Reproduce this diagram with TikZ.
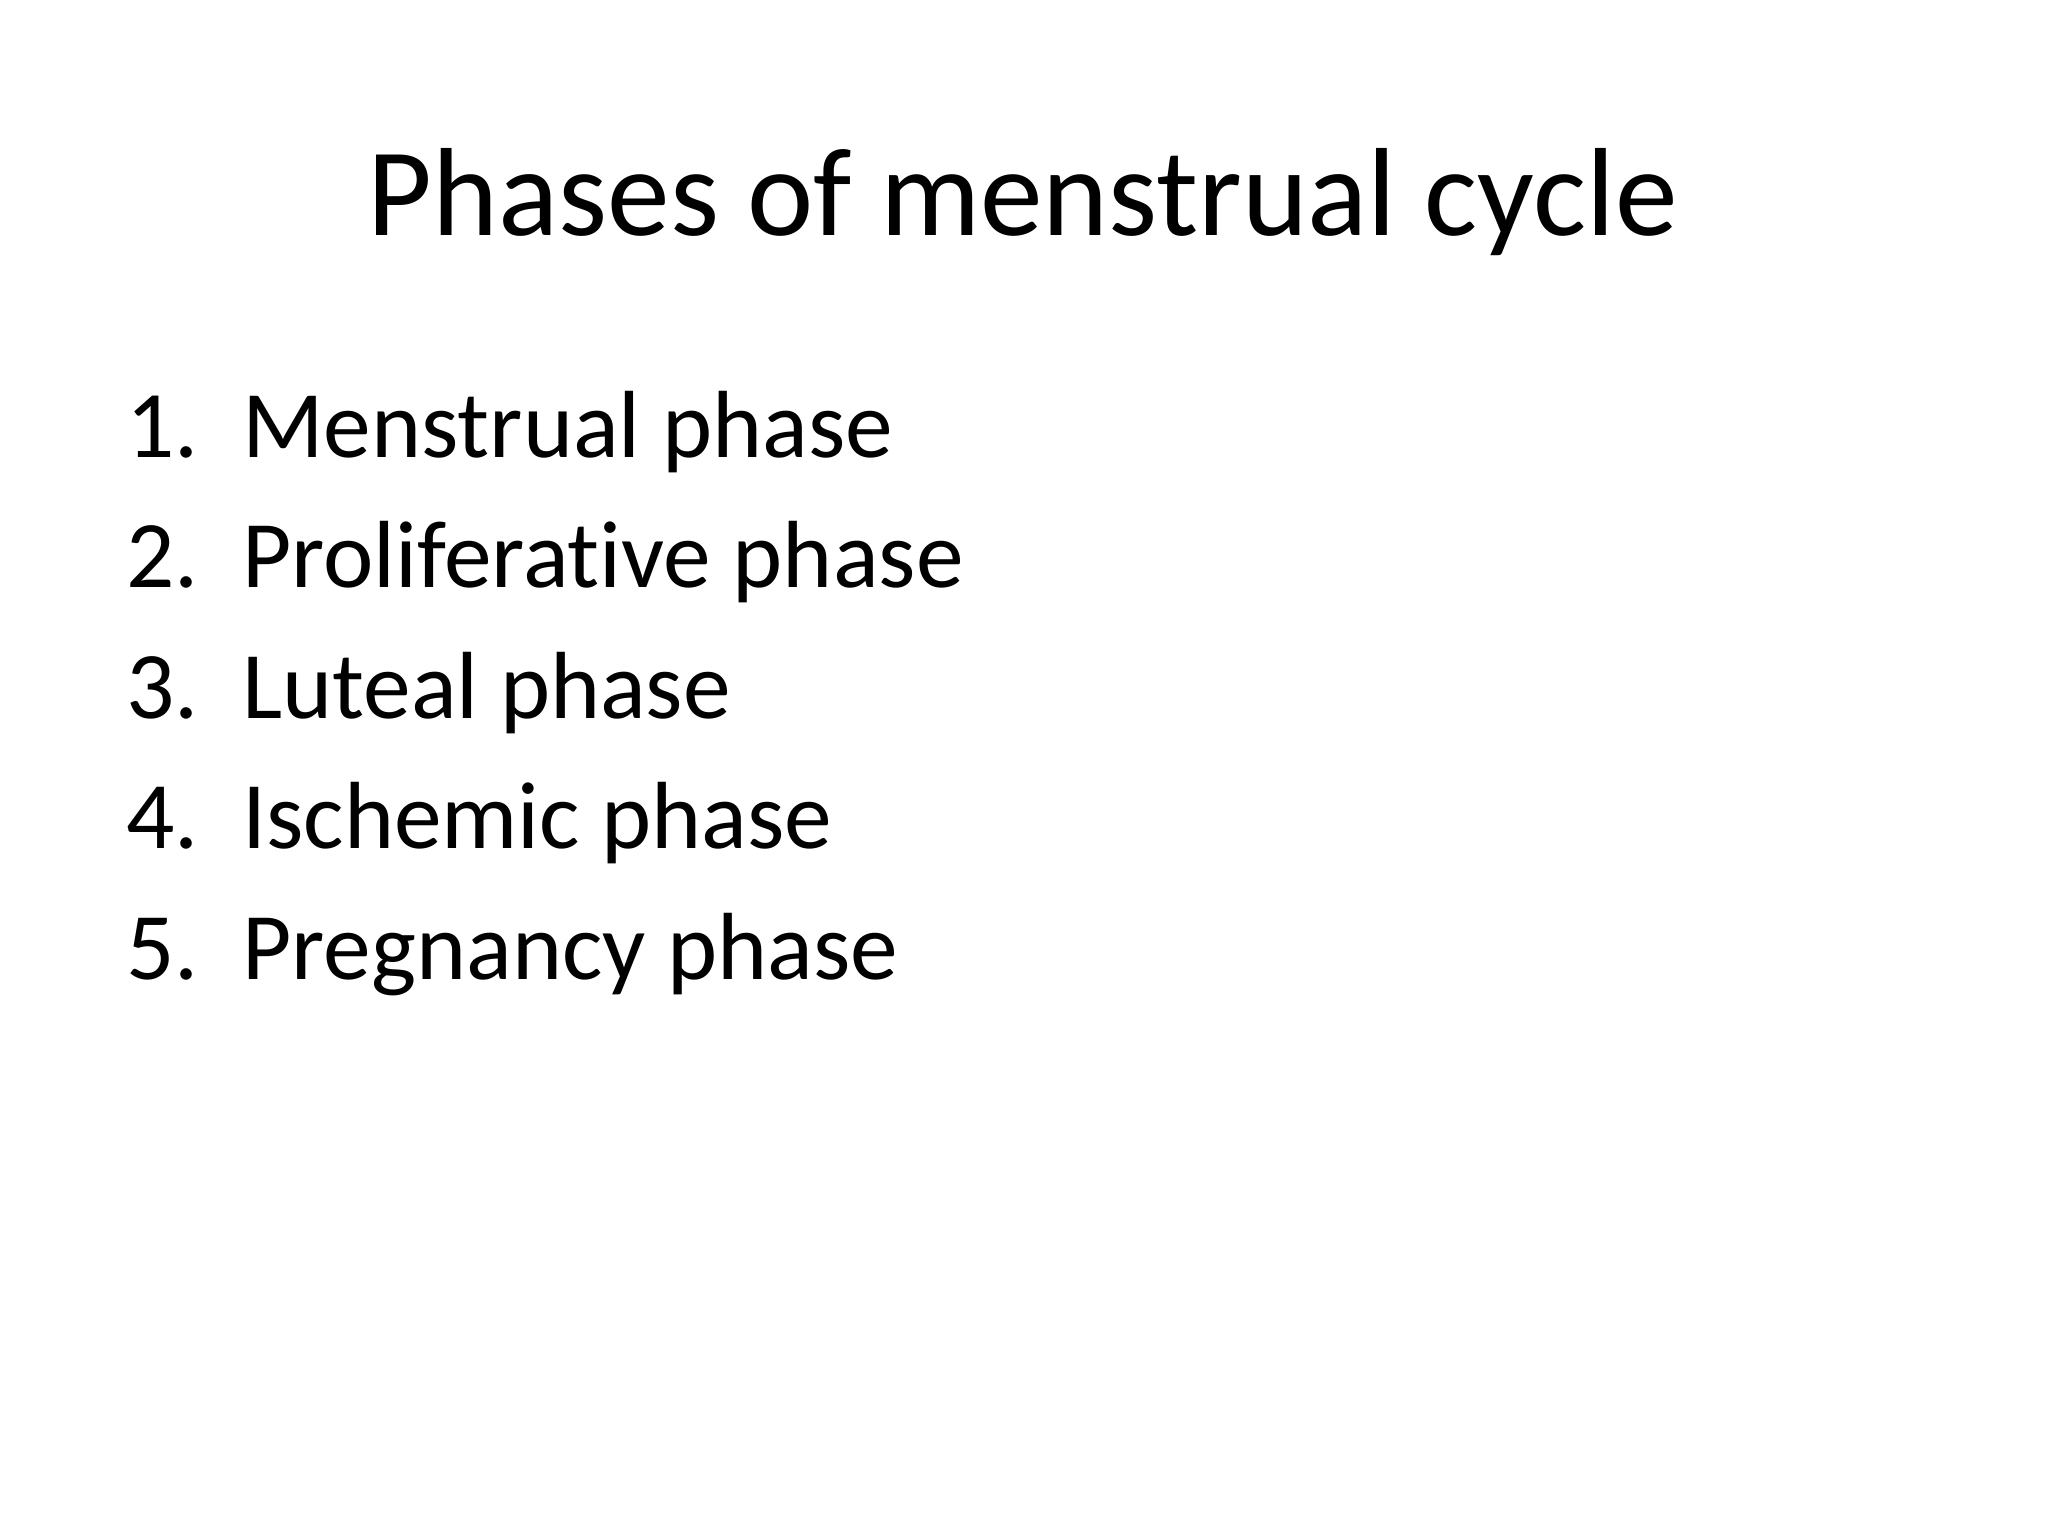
\documentclass[tikz,border=0pt]{standalone}
\usepackage{fontspec}
\setmainfont[Ligatures={NoCommon}]{Carlito}
\tikzset{every picture/.style={line width=0.75pt}}
\tikzset{
  title/.style={anchor=base,font=\fontsize{62.7}{70}\selectfont,inner sep=0pt},
  itemnum/.style={anchor=base west,font=\fontsize{47.7}{56}\selectfont,inner sep=0pt},
  itemtext/.style={anchor=base west,font=\fontsize{47.7}{56}\selectfont,inner sep=0pt}
}
\begin{document}
\begin{tikzpicture}[x=0.653pt,y=0.653pt,yscale=-1,xscale=1]
\useasboundingbox (0,0) rectangle (1568,1176);

%Title
\node[title] (ttl) at (783,180) {Phases of menstrual cycle};

%List
\node[itemnum] (n1) at (96,350) {1.};
\node[itemtext] (t1) at (185,350) {Menstrual phase};
\node[itemnum] (n2) at (96,450) {2.};
\node[itemtext] (t2) at (185,450) {Proliferative phase};
\node[itemnum] (n3) at (96,550) {3.};
\node[itemtext] (t3) at (185,550) {Luteal phase};
\node[itemnum] (n4) at (96,650) {4.};
\node[itemtext] (t4) at (185,650) {Ischemic phase};
\node[itemnum] (n5) at (96,750) {5.};
\node[itemtext] (t5) at (185,750) {Pregnancy phase};

\end{tikzpicture}
\end{document}
